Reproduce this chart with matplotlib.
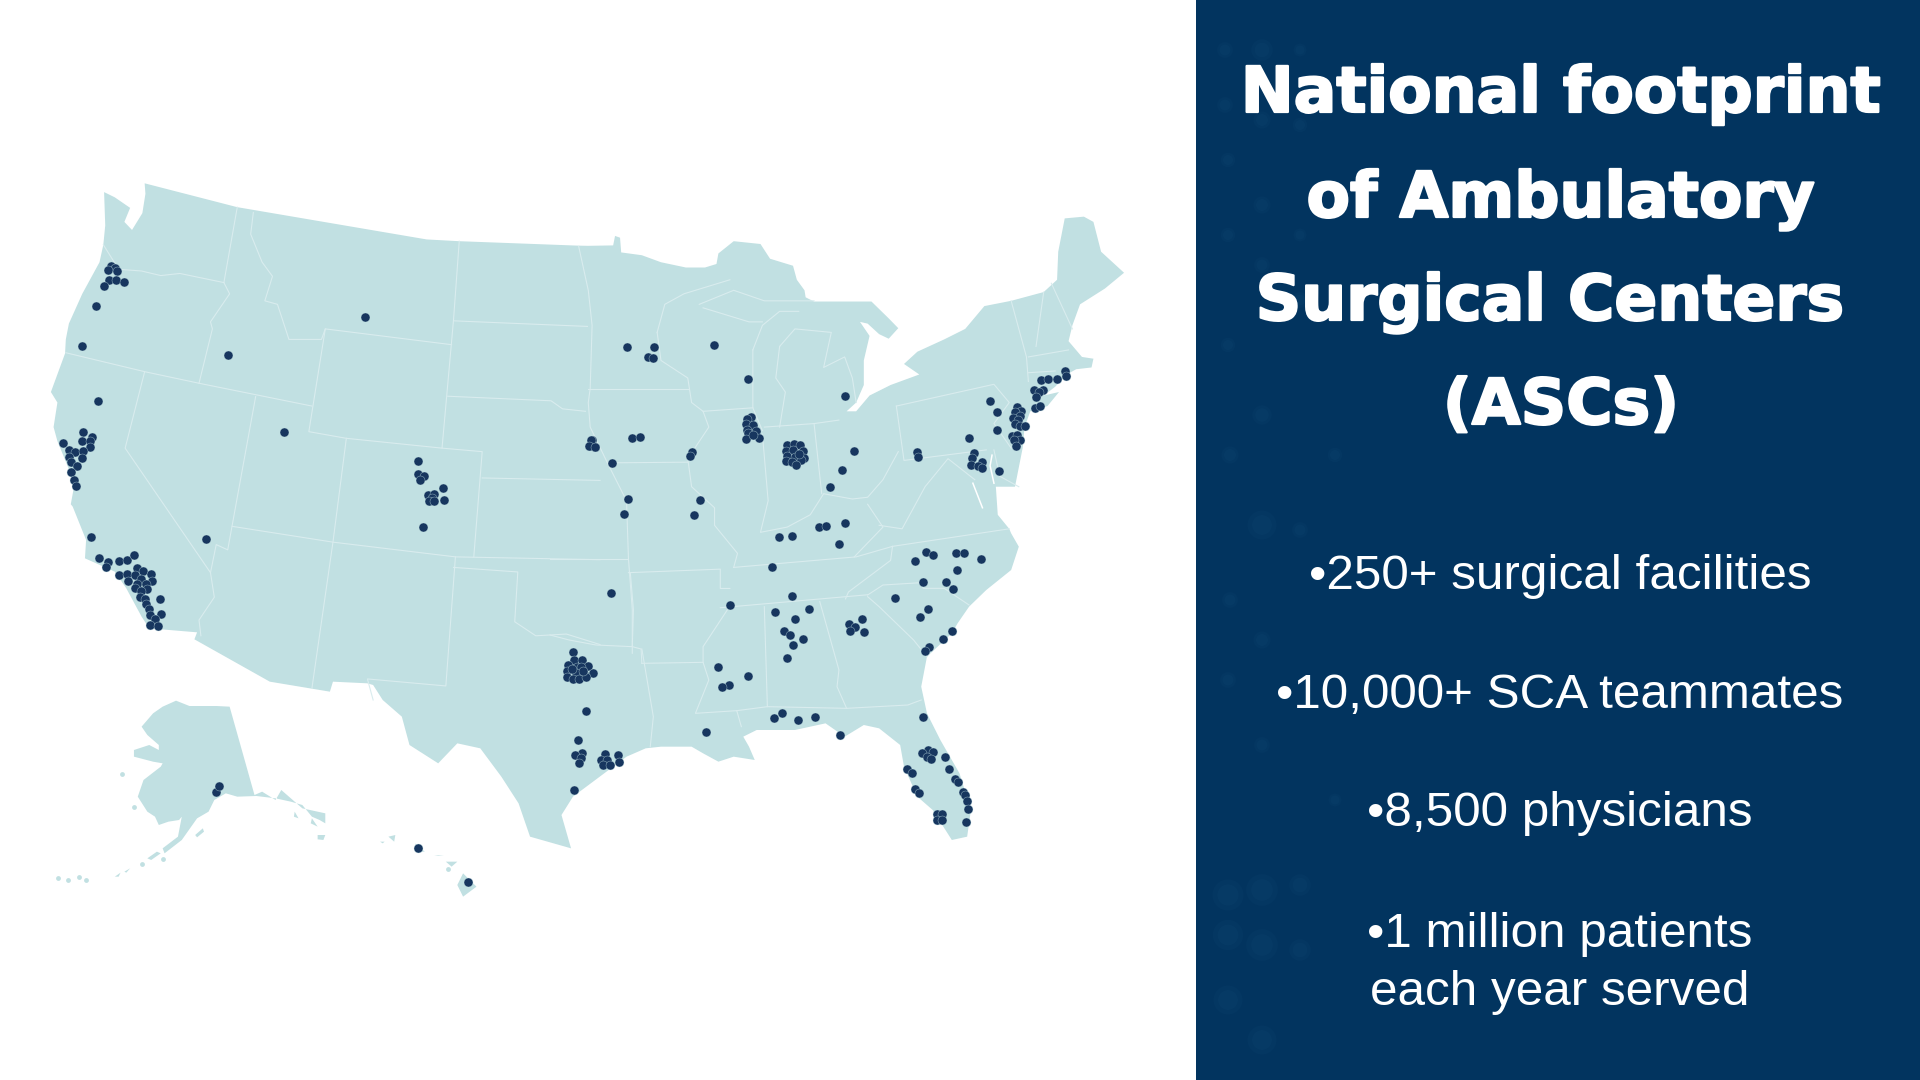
import numpy as np
import matplotlib
matplotlib.use('Agg')
import matplotlib.pyplot as plt
import matplotlib.patheffects as pe
from matplotlib.patches import Polygon, Rectangle

# everything below was read off crops of the slide, so each block has its own scale
# nw / ne : crops at y=150, sw / se : crops at y=500
def nw(p): return [(x/2.613, 150+y/2.851) for x, y in p]
def ne(p): return [(550+x/2.613, 150+y/2.851) for x, y in p]
def sw(p): return [(x/2.613, 500+y/3.0) for x, y in p]
def se(p): return [(550+x/2.613, 500+y/3.0) for x, y in p]

title_lines = ['National footprint', 'of Ambulatory', 'Surgical Centers', '(ASCs)']
bullet_lines = ['•250+ surgical facilities', '•10,000+ SCA teammates', '•8,500 physicians',
                '•1 million patients', 'each year served']

land_north = [(378,95),(620,163),(1115,255),(1200,260),(1568,275)]
land_east = [(0,275),(165,272),(170,245),(183,250),(186,292),(240,300),(290,320),(355,335),(405,335),
             (435,325),(440,295),(480,260),(550,268),(575,310),(635,330),(645,370),(665,400),(668,420),
             (690,432),(840,432),(885,480),(910,508),(885,538),(860,525),(830,495),(810,490),(835,530),
             (820,600),(820,670),(800,720),(775,745),(800,745),(835,700),(890,670),(965,640),(925,610),
             (960,575),(1030,540),(1085,510),(1135,445),(1205,430),(1290,405),(1325,370),(1328,290),
             (1345,195),(1395,190),(1420,205),(1440,290),(1500,350),(1450,395),(1385,440),(1365,500),
             (1355,545),(1390,590),(1420,595),(1415,620),(1375,625),(1350,640),(1320,675),(1290,700),
             (1330,690),(1300,730),(1255,745),(1240,790),(1235,850),(1215,960),(1165,960),(1170,1040),
             (1200,1080)]
land_southeast = [(1205,100),(1225,140),(1205,210),(1140,270),(1095,320),(1065,370),(1050,400),(985,470),
                  (970,560),(985,640),(1020,720),(1070,820),(1100,930),(1090,1010),(1050,1020),(1000,930),
                  (960,890),(925,800),(915,735),(860,685),(820,675),(770,710),(720,670),(640,690),(540,690),
                  (505,710),(520,740),(535,780),(480,770),(440,785),(400,760),(370,740),(290,740),(250,745),
                  (200,770),(130,830),(60,890),(30,945),(55,1045)]
land_southwest = [(1385,1010),(1355,910),(1310,830),(1255,745),(1195,730),(1145,790),(1070,735),(1050,650),
                  (1000,600),(975,555),(960,550),(870,545),(862,575),(705,545),(508,418),(515,397),(390,385),
                  (370,350),(330,265),(300,215),(222,175),(225,120),(190,20)]
land_west = [(185,1010),(195,950),(150,830),(140,790),(150,720),(133,690),(170,580),(172,540),(180,495),
             (215,410),(260,320),(270,270),(275,215),(272,120),(300,135),(340,165),(325,205),(345,228),
             (372,180),(380,125)]

alaska = [(370,680),(400,640),(425,620),(460,602),(495,618),(565,618),(600,620),(665,885),(685,875),(720,900),
          (735,870),(790,925),(850,940),(850,970),(835,960),(815,950),(790,915),(760,905),(720,895),(670,888),
          (620,890),(590,880),(560,900),(545,935),(515,955),(475,1020),(430,1060),(425,1045),(465,1010),
          (475,950),(468,960),(440,965),(415,975),(405,950),(385,935),(360,890),(375,840),(420,800),(425,790),
          (400,785),(350,770),(350,750),(390,735),(415,750),(415,735),(385,705)]
small_islands = [[(510,1005),(530,985),(533,995),(515,1012)],
                 [(300,1130),(315,1118),(310,1130)],
                 [(325,1115),(340,1105),(330,1118)],
                 [(385,1075),(410,1055),(420,1060),(395,1080)],
                 [(830,1005),(850,1005),(845,1020),(830,1018)],
                 [(770,935),(780,955),(768,950)],
                 [(815,955),(830,980),(812,970)],
                 [(1195,1155),(1210,1120),(1245,1160),(1210,1190)],
                 [(1165,1085),(1195,1085),(1180,1100)],
                 [(1085,1030),(1110,1055),(1090,1055)],
                 [(1015,1010),(1033,1005),(1030,1025)],
                 [(993,1025),(1005,1025),(1000,1030)],
                 [(1135,1065),(1160,1068),(1145,1068)]]
islet_pts = [(370,1092),(426,1077),(177,1141),(224,1141),(152,1135),(207,1131),(350,920),(320,822),(1170,1107)]

borders_nw = [[(270,270),(310,340),(370,345),(420,358),(470,352),(585,378)],
              [(620,163),(585,378),(600,410),(550,490),(555,510),(520,665)],
              [(172,578),(378,632),(520,665),(815,730)],
              [(662,178),(655,240),(685,320),(712,360),(692,430),(725,440),(755,540),(840,540),(850,510),(1180,555)],
              [(1200,260),(1185,485),(1155,850),(1260,860),(1238,1160)],
              [(850,510),(807,803),(905,822),(1155,850)],
              [(378,632),(327,850),(550,1205),(560,1275),(520,1340),(525,1385)],
              [(668,703),(595,1140),(565,1125),(550,1205)],
              [(905,822),(870,1118),(815,1535)],
              [(607,1073),(870,1118),(1190,1160),(1568,1168)],
              [(1260,935),(1568,942)],
              [(1190,1160),(1165,1528),(960,1508),(975,1568)],
              [(1185,1190),(1353,1203),(1345,1345),(1400,1385),(1480,1380),(1568,1410)],
              [(1185,487),(1535,503)],
              [(1170,702),(1440,715),(1470,738),(1530,745)]]
borders_ne = [[(75,275),(100,400),(110,500),(105,680),(100,720),(105,790),(150,892),(200,1000),(205,1165),(215,1310),(215,1435)],
              [(0,1165),(205,1165)],
              [(100,680),(362,680)],
              [(280,520),(290,600),(360,650),(370,720),(400,745),(415,790),(360,880),(370,960),(430,1020),(430,1070),(490,1150),(480,1190)],
              [(150,892),(360,890)],
              [(205,1205),(445,1195),(445,1250),(470,1250)],
              [(400,745),(530,735)],
              [(555,810),(570,1000),(550,1090),(620,1075),(680,1040),(715,980),(790,995),(830,990),(870,940),(910,860)],
              [(690,780),(710,980)],
              [(560,790),(690,780),(755,770)],
              [(905,730),(925,885),(1140,855)],
              [(905,730),(1160,668),(1200,720),(1160,780),(1205,850)],
              [(830,1010),(870,1075),(795,1160)],
              [(480,1190),(800,1160),(895,1130),(1200,1080)],
              [(860,1070),(920,1080),(980,960),(1040,880),(1110,940)],
              [(895,1130),(890,1170),(780,1260),(772,1280)],
              [(445,1305),(830,1268)],
              [(530,570),(555,500),(600,460),(650,460)],
              [(600,560),(590,650),(615,690),(600,790)],
              [(530,570),(530,735),(555,800)],
              [(600,560),(640,510),(735,520),(715,620),(770,590),(790,650),(800,720)],
              [(280,520),(300,440),(350,410),(470,370)],
              [(390,440),(480,400),(560,430),(690,430)],
              [(400,450),(520,490),(555,490)],
              [(1205,430),(1245,590),(1250,660)],
              [(1290,405),(1270,560)],
              [(1310,380),(1365,510)],
              [(1250,590),(1355,570)],
              [(1250,635),(1320,630)],
              [(1160,855),(1175,930),(1225,960)]]
bays_ne = [[(1155,870),(1150,900),(1160,950)], [(1105,950),(1130,1020)]]
borders_se = [[(830,285),(870,255),(970,248),(975,265),(1030,265),(1095,315)],
              [(830,290),(860,320),(950,420),(985,470)],
              [(560,320),(568,620)],
              [(705,305),(755,510),(750,560),(775,625)],
              [(488,632),(568,620),(775,625),(935,615),(970,600)],
              [(240,490),(400,487),(415,540),(380,640),(488,632),(500,680)],
              [(470,318),(400,440),(400,487)],
              [(210,220),(218,330),(215,440),(238,447),(240,490)],
              [(240,447),(270,650),(262,740)],
              [(0,405),(50,420),(120,435),(215,440)]]

sites_nw = [(290,330),(300,335),(283,342),(305,344),(284,371),(304,372),(325,376),(273,388),(252,446),(214,558),
            (597,584),(955,476),(256,716),(218,805),(240,817),(213,829),(234,830),(236,848),(165,836),(179,855),
            (196,861),(216,859),(179,875),(214,879),(186,890),(201,901),(185,919),(193,940),(198,957),(741,804),
            (238,1102),(539,1110),(258,1163),(282,1174),(278,1188),(310,1171),(333,1170),(351,1154),(357,1192),
            (374,1200),(394,1208),(310,1211),(333,1210),(352,1212),(368,1222),(397,1230),(335,1229),(358,1237),
            (381,1238),(354,1250),(383,1252),(368,1258),(365,1275),(378,1280),(382,1295),(389,1308),(417,1281),
            (391,1325),(420,1324),(404,1337),(392,1355),(413,1357),
            (1092,888),(1092,924),(1108,930),(1098,940),(1158,963),(1118,983),(1134,982),(1130,992),(1120,1002),
            (1134,1002),(1161,997),(1105,1075),(1546,828),(1541,845),(1555,846)]
sites_ne = [(61,1430),(63,1455),(83,1453),(47,1468),(100,1472),(45,1485),(70,1475),(80,1475),(68,1492),(113,1490),
            (90,1493),(45,1502),(60,1507),(75,1507),(93,1503),(85,1485),(58,1480),
            (202,561),(271,561),(255,589),(268,593),(429,557),(518,654),(771,700),
            (524,760),(514,766),(513,782),(530,785),(515,797),(538,800),(518,808),(547,820),(512,824),(530,812),
            (619,841),(637,838),(654,840),(616,858),(635,856),(662,857),(620,873),(640,875),(665,879),(617,888),
            (632,890),(655,885),(643,897),(650,868),
            (213,820),(234,819),(108,828),(103,845),(118,847),(371,860),(367,872),(162,892),(203,996),(193,1039),
            (392,998),(375,1040),(795,857),(764,911),(731,960),(959,860),(962,875),
            (1108,864),(1103,877),(1128,889),(1101,899),(1118,900),(1128,906),(1096,822),(1174,916),(1150,715),
            (1169,748),(1167,799),
            (1219,733),(1232,743),(1214,748),(1228,758),(1210,765),(1222,770),(1214,780),(1228,787),(1242,787),
            (1207,814),(1220,812),(1227,826),(1213,828),(1218,843),(1268,736),(1280,729),
            (1265,685),(1287,683),(1279,690),(1269,703),(1282,656),(1301,653),(1325,654),(1347,629),(1348,645),
            (598,1104),(633,1101),(702,1074),(722,1073),(770,1062),(756,1122),(580,1189),(160,1264),(471,1298),
            (982,1146),(1002,1155),(954,1171),(1061,1149),(1083,1150),(1127,1166),(1063,1196),(975,1233),(1034,1232),
            (1053,1253),(902,1277),(987,1310),(966,1332),(1050,1370),(1027,1394),(991,1418),(979,1428),
            (632,1271),(588,1317),(678,1309),(640,1338),(612,1370),(627,1382),(661,1395),(636,1411),(620,1448),
            (816,1338),(782,1351),(797,1360),(783,1372),(820,1375),
            (438,1475),(517,1501),(468,1524),(450,1530)]
sites_se = [(95,632),(74,721),(83,758),(66,766),(82,774),(76,790),(143,761),(133,779),(150,779),(138,795),(157,795),
            (178,765),(181,787),(62,871),(408,697),(585,653),(606,640),(647,659),(692,650),(758,704),(974,651),
            (988,750),(1002,755),(971,759),(985,770),(996,777),(1032,772),(1043,807),(934,808),(946,820),(1059,838),
            (1067,847),(955,868),(965,879),(1078,875),(1084,885),(1089,902),(1091,926),(1010,941),(1024,942),
            (1010,959),(1024,959),(1086,966)]
sites_sw = [(564,876),(573,858),(1091,1045),(1223,1146)]

# faint dots in the panel background (full slide pixels)
glow_x = [1225,1262,1300,1225,1262,1300,1228,1262,1300,1228,1262,1300,1228,1262,1230,1262,1300,1335,1230,1262,
          1228,1262,1335,1228,1262,1300,1228,1262,1300,1228,1262]
glow_y = [50,50,50,105,120,125,160,205,235,235,265,300,345,415,455,525,530,455,600,640,
          680,745,800,895,890,885,935,945,950,1000,1040]
glow_r = [60,110,40,60,70,50,50,70,40,50,60,60,50,90,70,200,60,50,60,70,
          60,60,40,230,240,110,220,240,110,200,200]

land_col = '#c1e0e2'
line_col = '#d9ecee'
dot_col = '#17365f'
panel_col = '#02345f'

fig = plt.figure(figsize=(19.2, 10.8), dpi=100, facecolor='white')
ax = fig.add_axes([0, 0, 1, 1])
ax.set_xlim(0, 1920)
ax.set_ylim(1080, 0)
ax.axis('off')

outline = nw(land_north) + ne(land_east) + se(land_southeast) + sw(land_southwest) + nw(land_west)
ax.add_patch(Polygon(outline, closed=True, fc=land_col, ec='none', zorder=1))
ax.add_patch(Polygon(sw(alaska), closed=True, fc=land_col, ec='none', zorder=1))
for isl in small_islands:
    ax.add_patch(Polygon(sw(isl), closed=True, fc=land_col, ec='none', zorder=1))
isl_xy = np.array(sw(islet_pts))
ax.scatter(isl_xy[:, 0], isl_xy[:, 1], s=12, c=land_col, linewidths=0, zorder=1)

for block, conv in [(borders_nw, nw), (borders_ne, ne), (borders_se, se)]:
    for seg in block:
        xy = np.array(conv(seg))
        ax.plot(xy[:, 0], xy[:, 1], color=line_col, lw=0.8, zorder=2, solid_joinstyle='round')
for seg in bays_ne:
    xy = np.array(ne(seg))
    ax.plot(xy[:, 0], xy[:, 1], color='white', lw=1.1, zorder=2)

sites = np.array(nw(sites_nw) + ne(sites_ne) + se(sites_se) + sw(sites_sw))
ax.scatter(sites[:, 0], sites[:, 1], s=42, c=dot_col, edgecolors=land_col, linewidths=0.25, zorder=3)

# right panel
ax.add_patch(Rectangle((1196, 0), 724, 1080, fc=panel_col, ec='none', zorder=4))
glow_s = np.array(glow_r)
ax.scatter(glow_x, glow_y, s=glow_s*2.2, c='#0e4570', alpha=0.18, linewidths=0, zorder=5)
ax.scatter(glow_x, glow_y, s=glow_s, c='#0e4570', alpha=0.28, linewidths=0, zorder=5)

title_base = [112, 217, 320, 424]
title_cx = [1561, 1561, 1550, 1561]  # third line sits left in the slide (trailing space)
for line, cx, y in zip(title_lines, title_cx, title_base):
    ax.text(cx, y, line, color='white', ha='center', va='baseline', fontsize=45.5,
            family='DejaVu Sans', fontweight='bold', zorder=6,
            path_effects=[pe.withStroke(linewidth=1.6, foreground='white')])

bullet_base = [589, 708, 826, 947, 1005]
for line, y in zip(bullet_lines, bullet_base):
    ax.text(1560, y, line, color='white', ha='center', va='baseline', fontsize=35.6,
            family='Liberation Sans', zorder=6)

fig.savefig('out.png', dpi=100)
